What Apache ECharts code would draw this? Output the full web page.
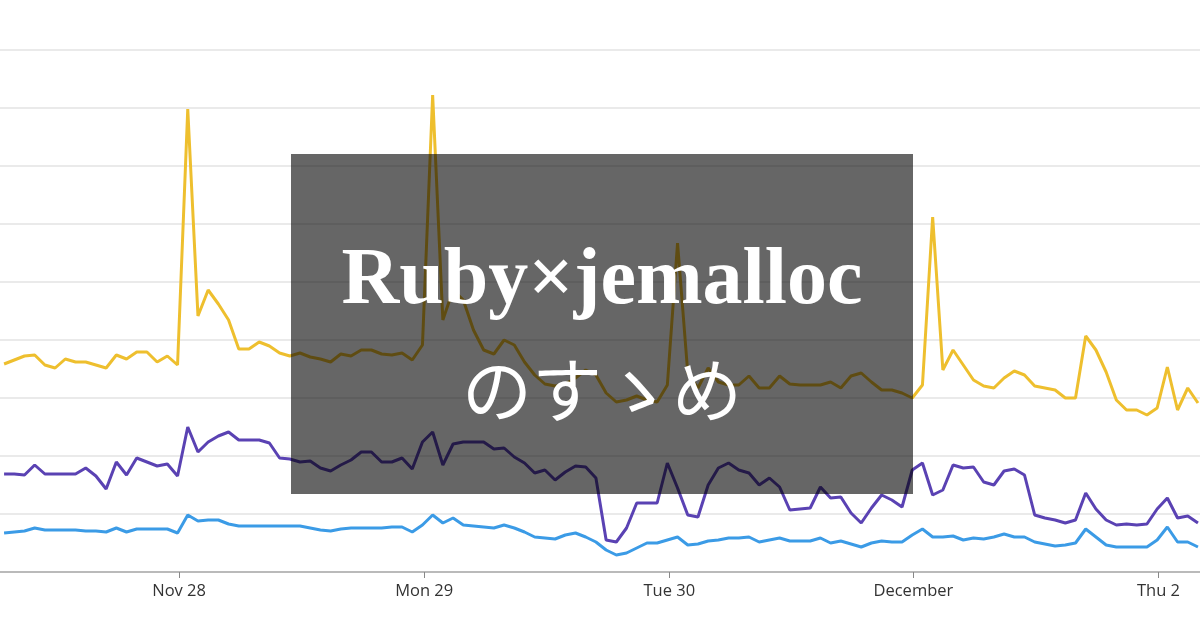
<!DOCTYPE html>
<html><head><meta charset="utf-8">
<script src="https://cdn.jsdelivr.net/npm/echarts@6/dist/echarts.min.js"></script>
<style>html,body{margin:0;padding:0;background:#fff}#c{width:1200px;height:630px}</style>
</head><body><div id="c"></div>
<script>
var tickLabels = ['Nov 28','Mon 29','Tue 30','December','Thu 2'];
var tickPositions = [17.15,41.17,65.19,89.11,113.13];
var yellow = [208,212,216,217,207,204,213,210,210,207,204,217,213,220,220,210,216,207,463,256,282,268,252,223,223,230,226,219,216,219,215,213,210,218,216,222,222,218,217,219,212,227,477,252,282,272,242,222,218,232,227,210,197,188,186,188,194,202,197,179,170,172,176,172,170,187,329,199,184,204,190,187,187,196,184,184,196,188,187,187,187,190,184,196,199,190,182,182,179,174,187,355,202,222,207,192,186,184,194,201,197,186,184,182,174,174,236,222,200,172,162,162,157,164,205,162,184,169];
var purple = [98,98,97,107,98,98,98,98,104,96,83,110,97,114,110,106,108,96,145,120,130,136,140,132,132,132,129,114,113,110,111,104,101,107,112,120,120,110,110,114,103,130,140,107,128,130,130,130,123,124,115,109,99,102,92,100,106,105,94,32,30,44,69,69,69,109,84,57,55,87,104,109,102,99,87,94,85,62,63,64,85,74,75,59,49,64,77,72,65,102,109,77,82,107,104,105,90,87,101,103,97,57,54,52,49,52,79,63,52,47,48,47,48,63,74,54,56,49];
var blue = [39,40,41,44,42,42,42,42,41,41,40,44,40,43,43,43,43,39,57,51,52,52,48,46,46,46,46,46,46,46,44,42,41,43,44,44,44,44,45,45,40,47,57,49,54,47,46,45,44,47,44,40,35,34,33,37,39,35,30,22,17,19,24,29,29,32,35,27,28,31,32,34,34,35,30,32,34,31,31,31,34,29,31,28,25,29,31,30,30,37,43,35,35,36,32,34,33,35,38,35,35,30,28,26,27,29,43,35,27,25,25,25,25,32,45,30,30,25];
var title1 = 'Ruby×jemalloc';
var title2 = 'のすゝめ';

function pts(a){return a.map(function(v,i){return [i,v];});}
var chart = echarts.init(document.getElementById('c'));
function line(d,c){return {type:'line',data:pts(d),showSymbol:false,symbol:'none',lineStyle:{color:c,width:3},itemStyle:{color:c},z:2};}
chart.setOption({
  animation:false,
  grid:{left:0,right:0,top:50,bottom:58},
  xAxis:{type:'value',min:-0.4,max:117.2,
    axisLine:{show:true,lineStyle:{color:'#aaa',width:1.5}},
    axisTick:{show:true,customValues:tickPositions,length:6,lineStyle:{color:'#888'}},
    axisLabel:{customValues:tickPositions,color:'#333',fontSize:16.5,fontFamily:'Open Sans',margin:11,
      formatter:function(v){var k=tickPositions.indexOf(v);return k>=0?tickLabels[k]:'';}},
    splitLine:{show:false}},
  yAxis:{type:'value',min:0,max:522,interval:58,axisLabel:{show:false},axisLine:{show:false},axisTick:{show:false},
    splitLine:{lineStyle:{color:'#e3e3e3',width:1.5}}},
  series:[line(yellow,'#eebf2e'),line(purple,'#5a42b3'),line(blue,'#3b9be6')],
  graphic:[
    {type:'rect',shape:{x:291,y:154,width:622,height:340},style:{fill:'rgba(0,0,0,0.6)'},z:10},
    {type:'text',x:602,y:282,style:{text:title1,fill:'#fff',font:'bold 80px "Liberation Serif", serif',align:'center',verticalAlign:'middle'},z:11},
    {type:'text',x:602,y:390,style:{text:title2,fill:'#fff',font:'70px "Noto Sans CJK JP", serif',align:'center',verticalAlign:'middle'},z:11}
  ]
});
</script></body></html>
